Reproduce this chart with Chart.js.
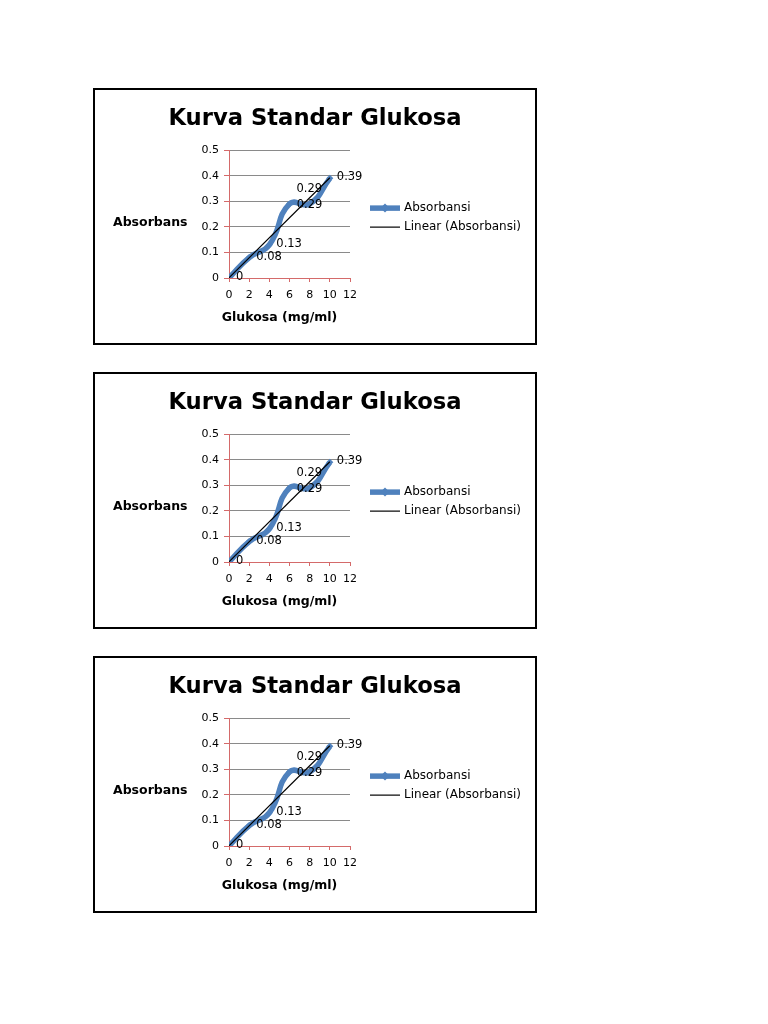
<!DOCTYPE html>
<html lang="id">
<head>
    <meta charset="UTF-8">
    <title>Kurva Standar Glukosa</title>
    <style>
        body {
            margin: 0;
            padding: 0;
            background: #fff;
            width: 768px;
            height: 1024px;
            position: relative;
            font-family: 'DejaVu Sans', sans-serif;
        }

        .chart-box {
            position: absolute;
            left: 93px;
            width: 440px;
            height: 253px;
            border: 2px solid #000;
            background: #fff;
        }

        .chart-box canvas {
            display: block;
        }
    </style>
</head>
<body>

    <div class="chart-box" style="top: 88px;"><canvas id="chart1" width="440" height="253"></canvas></div>
    <div class="chart-box" style="top: 372px;"><canvas id="chart2" width="440" height="253"></canvas></div>
    <div class="chart-box" style="top: 656px;"><canvas id="chart3" width="440" height="253"></canvas></div>

    <script src="https://cdn.jsdelivr.net/npm/chart.js"></script>
    <script>
// data
const glukosa = [0, 2, 4, 6, 8, 10];              // mg/ml
const absorbansi = [0, 0.08, 0.13, 0.29, 0.29, 0.39];
const xTicks = [0, 2, 4, 6, 8, 10, 12];
const yTicks = [0, 0.1, 0.2, 0.3, 0.4, 0.5];

const chartTitle = 'Kurva Standar Glukosa';
const xTitle = 'Glukosa (mg/ml)';
const yTitle = 'Absorbans';
const seriesName = 'Absorbansi';
const trendName = 'Linear (Absorbansi)';

const axisRed = '#d46a6a';
const gridGray = '#8a8a8a';
const blue = '#4f81bd';

// least squares trendline, like Excel's linear trendline
function linearFit(xs, ys) {
    const n = xs.length;
    const mx = xs.reduce((a, b) => a + b, 0) / n;
    const my = ys.reduce((a, b) => a + b, 0) / n;
    let sxy = 0, sxx = 0;
    for (let i = 0; i < n; i++) {
        sxy += (xs[i] - mx) * (ys[i] - my);
        sxx += (xs[i] - mx) * (xs[i] - mx);
    }
    const slope = sxy / sxx;
    return { slope: slope, intercept: my - slope * mx };
}

const fit = linearFit(glukosa, absorbansi);
const xFirst = glukosa[0];
const xLast = glukosa[glukosa.length - 1];

// label offsets in px (Excel put the two 0.29 labels oddly)
const labelShift = {
    3: { dx: 7, dy: -15 },
    4: { dx: -13, dy: 1 }
};

const extrasPlugin = {
    id: 'extras',
    afterDatasetsDraw(chart) {
        const ctx = chart.ctx;
        const meta = chart.getDatasetMeta(0);
        ctx.save();
        ctx.font = '11.5px "DejaVu Sans"';
        ctx.fillStyle = '#000';
        ctx.textAlign = 'left';
        ctx.textBaseline = 'middle';
        meta.data.forEach((pt, i) => {
            const s = labelShift[i] || { dx: 7, dy: -1 };
            ctx.fillText(String(absorbansi[i]), pt.x + s.dx, pt.y + s.dy);
        });
        ctx.restore();
    },
    afterDraw(chart) {
        const ctx = chart.ctx;
        const area = chart.chartArea;
        const midY = (area.top + area.bottom) / 2;
        ctx.save();

        // axis titles, placed the way Excel did it (y title not rotated)
        ctx.font = 'bold 12.5px "DejaVu Sans"';
        ctx.fillStyle = '#000';
        ctx.textBaseline = 'middle';
        ctx.textAlign = 'left';
        ctx.fillText(yTitle, 18, midY + 9);
        ctx.textAlign = 'center';
        ctx.fillText(xTitle, area.left + 50.5, area.bottom + 40);

        // legend to the right of the plot
        const lx = area.right + 20;
        let ly = midY - 6;
        ctx.font = '12px "DejaVu Sans"';
        ctx.textAlign = 'left';
        chart.data.datasets.forEach((ds) => {
            ctx.strokeStyle = ds.borderColor;
            ctx.lineWidth = ds.borderWidth;
            ctx.beginPath();
            ctx.moveTo(lx, ly);
            ctx.lineTo(lx + 30, ly);
            ctx.stroke();
            if (ds.pointRadius > 0) {
                const r = ds.pointRadius + 1;
                ctx.fillStyle = ds.borderColor;
                ctx.beginPath();
                ctx.moveTo(lx + 15, ly - r);
                ctx.lineTo(lx + 15 + r, ly);
                ctx.lineTo(lx + 15, ly + r);
                ctx.lineTo(lx + 15 - r, ly);
                ctx.closePath();
                ctx.fill();
            }
            ctx.fillStyle = '#000';
            ctx.fillText(ds.label, lx + 34, ly);
            ly += 19;
        });
        ctx.restore();
    }
};

Chart.defaults.font.family = '"DejaVu Sans", sans-serif';
Chart.defaults.color = '#000';

function makeChart(id) {
    const ctx = document.getElementById(id).getContext('2d');
    return new Chart(ctx, {
        type: 'line',
        data: {
            datasets: [{
                label: seriesName,
                data: glukosa.map((x, i) => ({ x: x, y: absorbansi[i] })),
                borderColor: blue,
                backgroundColor: blue,
                borderWidth: 5.5,
                tension: 0.5,
                pointStyle: 'rectRot',
                pointRadius: 3.5,
                pointBorderWidth: 0,
                fill: false
            }, {
                label: trendName,
                data: [
                    { x: xFirst, y: fit.intercept + fit.slope * xFirst },
                    { x: xLast, y: fit.intercept + fit.slope * xLast }
                ],
                borderColor: '#000',
                backgroundColor: '#000',
                borderWidth: 1.2,
                pointRadius: 0,
                tension: 0,
                fill: false,
                order: -1
            }]
        },
        options: {
            responsive: false,
            animation: false,
            layout: { padding: 0 },
            plugins: {
                title: {
                    display: true,
                    text: chartTitle,
                    font: { size: 22.7, weight: 'bold' },
                    color: '#000',
                    padding: { top: 15, bottom: 18 }
                },
                legend: { display: false },
                tooltip: { enabled: false }
            },
            scales: {
                x: {
                    type: 'linear',
                    min: xTicks[0],
                    max: xTicks[xTicks.length - 1],
                    afterBuildTicks: (scale) => { scale.ticks = xTicks.map(v => ({ value: v })); },
                    afterFit: (scale) => { scale.height = 65; },
                    ticks: { font: { size: 11 }, color: '#000', padding: 7 },
                    grid: {
                        drawOnChartArea: false,
                        drawTicks: true,
                        tickLength: 4,
                        tickColor: axisRed
                    },
                    border: { color: axisRed, width: 1 }
                },
                y: {
                    min: yTicks[0],
                    max: yTicks[yTicks.length - 1],
                    afterBuildTicks: (scale) => { scale.ticks = yTicks.map(v => ({ value: v })); },
                    afterFit: (scale) => { scale.width = 134; },
                    ticks: { font: { size: 11 }, color: '#000', padding: 5 },
                    grid: {
                        color: gridGray,
                        lineWidth: 1,
                        drawTicks: true,
                        tickLength: 5,
                        tickColor: axisRed
                    },
                    border: { color: axisRed, width: 1 }
                },
                // empty right axis, only keeps room for the legend
                side: {
                    type: 'linear',
                    position: 'right',
                    display: true,
                    afterFit: (scale) => { scale.width = 185; },
                    ticks: { display: false },
                    grid: { display: false },
                    border: { display: false }
                }
            }
        },
        plugins: [extrasPlugin]
    });
}

makeChart('chart1');
makeChart('chart2');
makeChart('chart3');
    </script>
</body>
</html>
